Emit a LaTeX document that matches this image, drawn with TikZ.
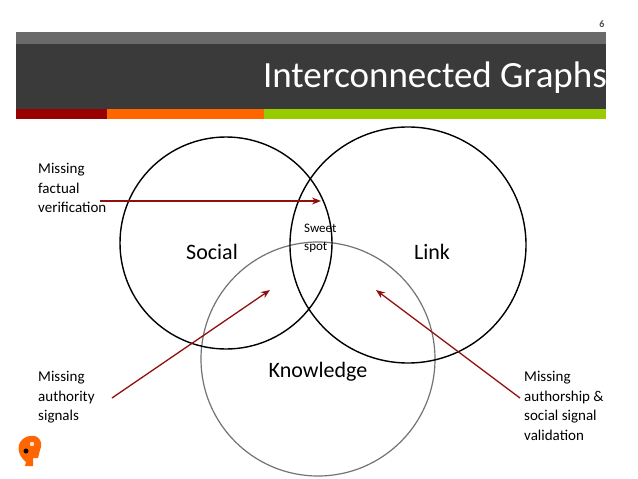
\documentclass[tikz,border=0pt]{standalone}
\usepackage{fontspec}
\setmainfont{Carlito}
\usetikzlibrary{arrows.meta}
\definecolor{topgray}{HTML}{6A6A6A}
\definecolor{band}{HTML}{3A3A3A}
\definecolor{dred}{HTML}{990000}
\definecolor{org}{HTML}{FF6600}
\definecolor{grn}{HTML}{99CC00}
\definecolor{arr}{HTML}{901010}
\begin{document}
\begin{tikzpicture}[x=1pt,y=-1pt,
  lbl/.style={font=\fontsize{15}{19.5}\selectfont,align=left,anchor=north west,inner sep=0},
  big/.style={font=\fontsize{22}{24}\selectfont,inner sep=0},
  miss/.style={draw=arr,line width=1.3pt,-{Stealth[length=9pt,width=7pt]}}]
\useasboundingbox (0,0) rectangle (638,479);
\fill[white] (0,0) rectangle (638,479);
\fill[topgray] (16,32) rectangle (606,44);
\fill[band] (16,44) rectangle (606,109);
\fill[dred] (16,109) rectangle (107,119);
\fill[org] (107,109) rectangle (264,119);
\fill[grn] (264,109) rectangle (606,119);
\node[font=\fontsize{10}{11}\selectfont\bfseries,text=black!70,inner sep=0] (pg) at (602,24) {6};
\node[font=\fontsize{37}{40}\selectfont,text=white,anchor=east,inner sep=0] (title) at (607,78) {Interconnected Graphs};
\draw[black!55,line width=1.2pt] (318,359) circle (117);
\draw[black,line width=1.4pt] (226,243) circle (106);
\draw[black,line width=1.4pt] (408,245) circle (118);
\node[big] (soc) at (212,252) {Social};
\node[big] (lnk) at (432,252) {Link};
\node[big] (kn) at (318,372) {Knowledge};
\node[font=\fontsize{13}{18}\selectfont,align=left,anchor=north west,inner sep=0] (sw) at (304,224) {Sweet\\spot};
\node[lbl] (l1) at (38,163) {Missing\\factual\\verification};
\node[lbl] (l2) at (38,371) {Missing\\authority\\signals};
\node[lbl] (l3) at (524,371) {Missing\\authorship \&\\social signal\\validation};
\coordinate (a1s) at (100,201); \coordinate (a1e) at (321,201);
\coordinate (a2s) at (112,398); \coordinate (a2e) at (270,290);
\coordinate (a3s) at (520,398); \coordinate (a3e) at (376,290);
\draw[miss] (a1s) -- (a1e);
\draw[miss] (a2s) -- (a2e);
\draw[miss] (a3s) -- (a3e);
% icon
\fill[org] (26,462) .. controls (16,454) and (16,442) .. (26,437) .. controls (38,432) and (44,442) .. (40,450) -- (38,458) -- (33,458) -- (33,466) -- (25,466) -- cycle;
\fill[black] (26,451) circle (2.5);
\fill[white!80!org] (32,444) circle (2.2);
\end{tikzpicture}
\end{document}
